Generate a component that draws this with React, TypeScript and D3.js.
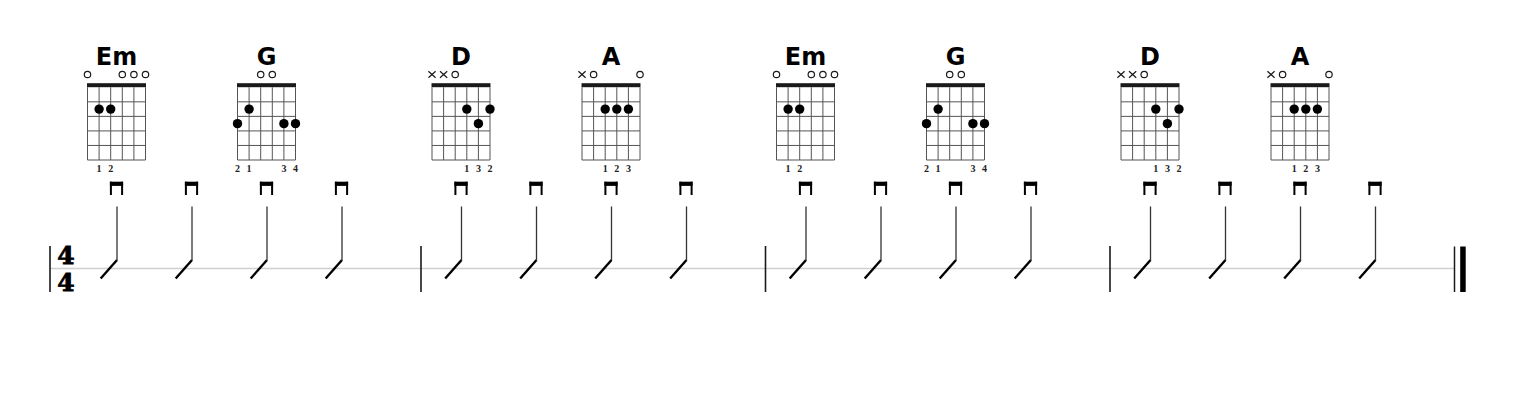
import * as React from 'react';
import { scaleLinear, select, range } from 'd3';

// chord names in playing order, two per measure (beats 1 and 3)
const chordNames = ['Em', 'G', 'D', 'A', 'Em', 'G', 'D', 'A'];
const chordMeasures = [0, 0, 1, 1, 2, 2, 3, 3];
const chordBeats = [0, 2, 0, 2, 0, 2, 0, 2];

// fret per string, low E -> high e; -1 muted, 0 open
const shapes: { [key: string]: number[] } = {
    Em: [0, 2, 2, 0, 0, 0],
    G: [3, 2, 0, 0, 3, 3],
    D: [-1, -1, 0, 2, 3, 2],
    A: [-1, 0, 2, 2, 2, 0],
};
const fingers: { [key: string]: (number | null)[] } = {
    Em: [null, 1, 2, null, null, null],
    G: [2, 1, null, null, 3, 4],
    D: [null, null, null, 1, 3, 2],
    A: [null, null, 1, 2, 3, null],
};

const measures = [0, 1, 2, 3];
const beats = [0, 1, 2, 3];
const timeSig = ['4', '4'];

const W = 1536;
const H = 402;
const ink = '#1a1a1a';

const App = () => {
    const svgRef = React.useRef<SVGSVGElement>(null);

    React.useEffect(() => {
        const svg = select(svgRef.current);
        svg.selectAll('*').remove();

        // bar end positions and beats inside each measure
        const barEnd = scaleLinear().domain([0, 1]).range([421, 765.5]);
        const beatOffset = scaleLinear().domain([0, 3]).range([-304, -79]);
        const beatX = (m: number, b: number) => barEnd(m) + beatOffset(b);
        const staffY = 268.5;
        const staffLeft = 50;
        const staffRight = barEnd(measures.length - 1);

        const staff = svg.append('g').attr('class', 'staff');
        staff.append('line')
            .attr('x1', staffLeft).attr('x2', staffRight)
            .attr('y1', staffY).attr('y2', staffY)
            .attr('stroke', '#cfcfcf').attr('stroke-width', 1.5);

        // opening barline
        staff.append('line')
            .attr('x1', staffLeft).attr('x2', staffLeft)
            .attr('y1', 246).attr('y2', 292)
            .attr('stroke', ink).attr('stroke-width', 1.6);

        // inner barlines
        staff.selectAll('.bar')
            .data(measures.slice(0, measures.length - 1))
            .join('line')
            .attr('class', 'bar')
            .attr('x1', (m) => barEnd(m)).attr('x2', (m) => barEnd(m))
            .attr('y1', 246).attr('y2', 292)
            .attr('stroke', ink).attr('stroke-width', 1.6);

        // final barline
        staff.append('line')
            .attr('x1', staffRight).attr('x2', staffRight)
            .attr('y1', 246.5).attr('y2', 292)
            .attr('stroke', ink).attr('stroke-width', 1.5);
        staff.append('rect')
            .attr('x', staffRight + 5.7).attr('width', 5.5)
            .attr('y', 246.5).attr('height', 45.5)
            .attr('fill', '#000');

        // time signature
        staff.selectAll('.ts')
            .data(timeSig)
            .join('text')
            .attr('class', 'ts')
            .attr('x', 66)
            .attr('y', (d, i) => (i === 0 ? 264 : 290.5))
            .attr('text-anchor', 'middle')
            .attr('font-family', '"DejaVu Serif"')
            .attr('font-weight', 'bold')
            .attr('font-size', 25)
            .attr('stroke', '#000')
            .attr('stroke-width', 0.8)
            .attr('fill', '#000')
            .text((d) => d);

        // strums
        const strums = measures.flatMap((m) => beats.map((b) => ({ m, b, x: beatX(m, b) })));
        const strum = svg.append('g').attr('class', 'strums')
            .selectAll('g')
            .data(strums)
            .join('g');

        strum.append('line')
            .attr('x1', (d) => d.x - 16.3).attr('y1', 278.5)
            .attr('x2', (d) => d.x).attr('y2', 260)
            .attr('stroke', '#000').attr('stroke-width', 2.4);
        strum.append('line')
            .attr('x1', (d) => d.x).attr('x2', (d) => d.x)
            .attr('y1', 260.5).attr('y2', 206.5)
            .attr('stroke', '#333').attr('stroke-width', 1.3);

        // down-bow marks
        strum.append('rect')
            .attr('x', (d) => d.x - 7.1).attr('width', 13.2)
            .attr('y', 181.7).attr('height', 4.2)
            .attr('fill', '#000');
        strum.append('rect')
            .attr('x', (d) => d.x - 7.1).attr('width', 2)
            .attr('y', 181.7).attr('height', 13.3)
            .attr('fill', '#000');
        strum.append('rect')
            .attr('x', (d) => d.x + 4.1).attr('width', 2)
            .attr('y', 181.7).attr('height', 13.3)
            .attr('fill', '#000');

        // chord diagrams
        const fretY = scaleLinear().domain([0, 5]).range([87.3, 160]);
        const gridHalf = 29;

        chordNames.forEach((name, i) => {
            const cx = beatX(chordMeasures[i], chordBeats[i]) - 0.5;
            const strX = scaleLinear().domain([0, 5]).range([cx - gridHalf, cx + gridHalf]);
            const g = svg.append('g').attr('class', 'chord');
            const shape = shapes[name];
            const fing = fingers[name];

            g.append('text')
                .attr('x', cx).attr('y', 64.5)
                .attr('text-anchor', 'middle')
                .attr('font-family', '"DejaVu Sans", sans-serif')
                .attr('font-weight', 700)
                .attr('font-size', 24)
                .attr('fill', '#000')
                .text(name);

            g.selectAll('.fret')
                .data(range(1, 6))
                .join('line')
                .attr('class', 'fret')
                .attr('x1', strX(0)).attr('x2', strX(5))
                .attr('y1', (f) => fretY(f)).attr('y2', (f) => fretY(f))
                .attr('stroke', '#555').attr('stroke-width', 1);

            g.selectAll('.string')
                .data(range(6))
                .join('line')
                .attr('class', 'string')
                .attr('x1', (s) => strX(s)).attr('x2', (s) => strX(s))
                .attr('y1', fretY(0)).attr('y2', fretY(5))
                .attr('stroke', '#555').attr('stroke-width', 1);

            g.append('rect')
                .attr('x', strX(0) - 0.5).attr('width', strX(5) - strX(0) + 1)
                .attr('y', 83.2).attr('height', 4)
                .attr('fill', '#1a1a1a');

            const strings = shape.map((f, s) => ({ f, s, finger: fing[s] }));

            g.selectAll('.dot')
                .data(strings.filter((d) => d.f > 0))
                .join('circle')
                .attr('class', 'dot')
                .attr('cx', (d) => strX(d.s))
                .attr('cy', (d) => fretY(d.f - 0.5))
                .attr('r', 4.7)
                .attr('fill', '#000');

            g.selectAll('.open')
                .data(strings.filter((d) => d.f === 0))
                .join('circle')
                .attr('class', 'open')
                .attr('cx', (d) => strX(d.s))
                .attr('cy', 74.5)
                .attr('r', 3.2)
                .attr('fill', 'none')
                .attr('stroke', ink)
                .attr('stroke-width', 1.2);

            const muted = g.selectAll('.mute')
                .data(strings.filter((d) => d.f < 0))
                .join('g')
                .attr('class', 'mute')
                .attr('transform', (d) => `translate(${strX(d.s)},74.5)`);
            muted.append('line')
                .attr('x1', -3.6).attr('y1', -3.2).attr('x2', 3.6).attr('y2', 3.2)
                .attr('stroke', ink).attr('stroke-width', 1.2);
            muted.append('line')
                .attr('x1', -3.6).attr('y1', 3.2).attr('x2', 3.6).attr('y2', -3.2)
                .attr('stroke', ink).attr('stroke-width', 1.2);

            g.selectAll('.finger')
                .data(strings.filter((d) => d.finger !== null))
                .join('text')
                .attr('class', 'finger')
                .attr('x', (d) => strX(d.s))
                .attr('y', 171.5)
                .attr('text-anchor', 'middle')
                .attr('font-family', '"Liberation Serif", serif')
                .attr('font-weight', 'bold')
                .attr('font-size', 10)
                .attr('fill', '#222')
                .text((d) => String(d.finger));
        });
    }, []);

    return (
        <svg ref={svgRef} width={W} height={H}
            style={{ position: 'absolute', left: 0, top: 0, background: '#fff' }} />
    );
};

export default App;
